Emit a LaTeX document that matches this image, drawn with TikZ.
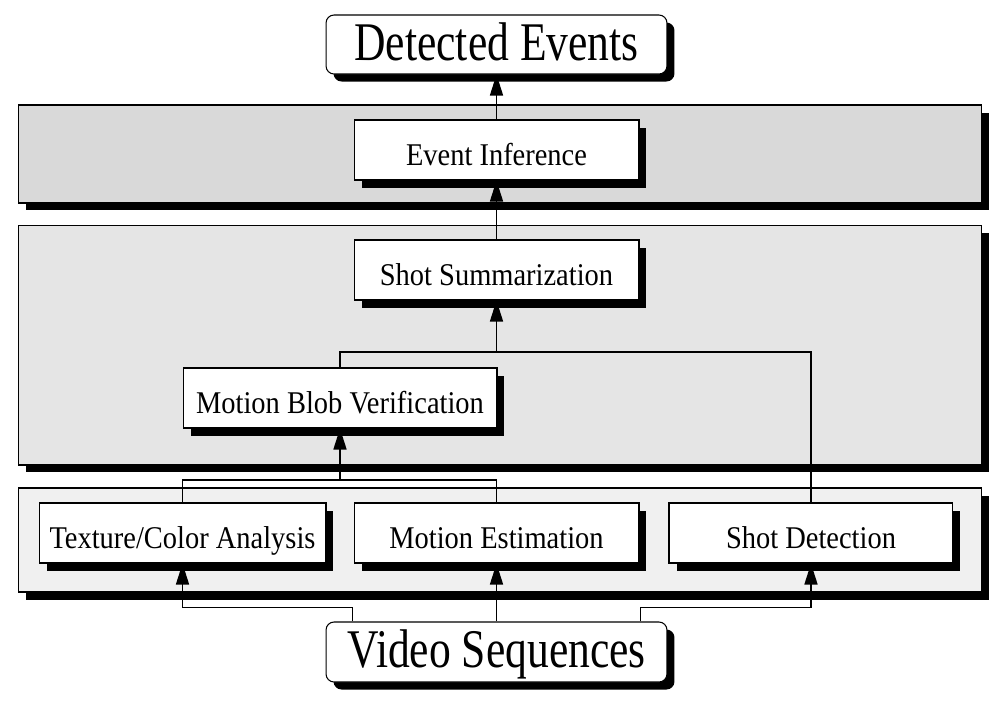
\documentclass[tikz,border=0pt]{standalone}
\usepackage{fontspec}
\newfontfamily\boxfont[FakeStretch=0.9]{Liberation Serif}
\newfontfamily\narrowfont[FakeStretch=0.8]{Liberation Serif}
\usetikzlibrary{positioning,arrows.meta,shadows}
\tikzset{
shadowed/.style={drop shadow={shadow xshift=0.15cm, shadow yshift=-0.15cm, fill=black, opacity=1}},
}

\begin{document}
\begin{tikzpicture}
        [x=0.02cm, y=-0.02cm,
        >={Triangle[length=0.42cm, width=0.26cm]},
        band/.style={draw, line width=0.6pt, shadowed, minimum width=19.28cm},
        frame/.style={draw, fill=white, line width=0.6pt, shadowed, minimum height=1.2cm,
            text height=18pt, text depth=0pt},
        block/.style={frame, minimum width=5.7cm, font=\boxfont\fontsize{18}{20}\selectfont},
        io/.style={frame, rounded corners=0.16cm, minimum width=6.82cm,
            font=\narrowfont\fontsize{31}{34}\selectfont},
        link/.style={line width=0.9pt}
        ]
        \useasboundingbox (0,0) rectangle (1008,725);

        % layers
        \node [band, fill=black!15, minimum height=1.96cm] (l3) at (500,154) {};
        \node [band, fill=black!10, minimum height=4.8cm] (l2) at (500,345) {};
        \node [band, fill=black!6, minimum height=2.08cm] (l1) at (500,540) {};

        \node [io, minimum height=1.18cm] (de) at (496.5,44.5) {Detected Events};
        \node [block] (ei) at (496.5,150) {Event Inference};
        \node [block] (ss) at (496.5,270) {Shot Summarization};
        \node [block, minimum width=6.28cm] (mbv) at (340,398) {Motion Blob Verification};

        \node [block] (me) at (496.5,533) {Motion Estimation};
        \node [block, minimum width=5.74cm] (tca) [left=0.54cm of me] {Texture/Color Analysis};
        \node [block, minimum width=5.68cm] (sd) [right=0.58cm of me] {Shot Detection};

        \node [io] (vs) at (496.5,652) {Video Sequences};

        \coordinate (j1) at (340,480);
        \coordinate (j2) at (496.5,352);

        \draw[->, link] (vs.north) -- (me.south);
        \draw[->, link] ([xshift=0.54cm]vs.north west) -- ++(0,-14) -| (tca.south);
        \draw[->, link] ([xshift=-0.54cm]vs.north east) -- ++(0,-14) -| (sd.south);
        \draw[link] (tca.north) |- (j1) -| (me.north);
        \draw[->, link] (j1) -- (mbv.south);
        \draw[link] (mbv.north) |- (j2) -| (sd.north);
        \draw[->, link] (j2) -- (ss.south);
        \draw[->, link] (ss.north) -- (ei.south);
        \draw[->, link] (ei.north) -- (de.south);
    \end{tikzpicture}
\end{document}
